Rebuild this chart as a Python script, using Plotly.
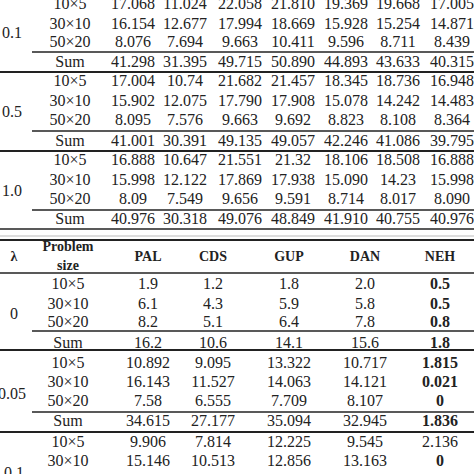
import plotly.graph_objects as go

sizes = ["10×5", "30×10", "50×20", "Sum"]
top_lambdas = ["0.1", "0.5", "1.0"]
top_values = [
    ["17.068", "11.024", "22.058", "21.810", "19.369", "19.668", "17.005"],
    ["16.154", "12.677", "17.994", "18.669", "15.928", "15.254", "14.871"],
    ["8.076", "7.694", "9.663", "10.411", "9.596", "8.711", "8.439"],
    ["41.298", "31.395", "49.715", "50.890", "44.893", "43.633", "40.315"],
    ["17.004", "10.74", "21.682", "21.457", "18.345", "18.736", "16.948"],
    ["15.902", "12.075", "17.790", "17.908", "15.078", "14.242", "14.483"],
    ["8.095", "7.576", "9.663", "9.692", "8.823", "8.108", "8.364"],
    ["41.001", "30.391", "49.135", "49.057", "42.246", "41.086", "39.795"],
    ["16.888", "10.647", "21.551", "21.32", "18.106", "18.508", "16.888"],
    ["15.998", "12.122", "17.869", "17.938", "15.090", "14.23", "15.998"],
    ["8.09", "7.549", "9.656", "9.591", "8.714", "8.017", "8.090"],
    ["40.976", "30.318", "49.076", "48.849", "41.910", "40.755", "40.976"],
]
headers = ["λ", "Problem<br>size", "PAL", "CDS", "GUP", "DAN", "NEH"]
bot_lambdas = ["0", "0.05", "0.1"]
bot_values = [
    ["1.9", "1.2", "1.8", "2.0", "0.5"],
    ["6.1", "4.3", "5.9", "5.8", "0.5"],
    ["8.2", "5.1", "6.4", "7.8", "0.8"],
    ["16.2", "10.6", "14.1", "15.6", "1.8"],
    ["10.892", "9.095", "13.322", "10.717", "1.815"],
    ["16.143", "11.527", "14.063", "14.121", "0.021"],
    ["7.58", "6.555", "7.709", "8.107", "0"],
    ["34.615", "27.177", "35.094", "32.945", "1.836"],
    ["9.906", "7.814", "12.225", "9.545", "2.136"],
    ["15.146", "10.513", "12.856", "13.163", "0"],
]
bot_bold_neh = [True, True, True, True, True, True, True, True, False, True]

F = "Liberation Serif"
fig = go.Figure()
def txt(xs, ys, ts, size=16, color="#222"):
    fig.add_trace(go.Scatter(x=xs, y=ys, text=ts, mode="text", textposition="middle center",
                             textfont=dict(family=F, size=size, color=color), hoverinfo="skip",
                             cliponaxis=False))

# top table
top_rows_y = [5, 25, 43, 63, 82, 102, 121, 142, 161, 181, 200, 220]
top_cols_x = [133, 185, 240, 293, 346, 398, 452]
xs, ys, ts = [], [], []
for i, row in enumerate(top_values):
    xs.append(70); ys.append(top_rows_y[i]); ts.append(sizes[i % 4])
    for j, v in enumerate(row):
        xs.append(top_cols_x[j]); ys.append(top_rows_y[i]); ts.append(v)
for k, l in enumerate(top_lambdas):
    xs.append(12); ys.append(34 + 79 * k); ts.append(l)
txt(xs, ys, ts)

# bottom table
bx = [14, 68, 148, 213, 289, 365, 440]
xs, ys, ts = [], [], []
for j, h in enumerate(headers):
    xs.append(bx[j]); ys.append(257); ts.append("<b>" + h + "</b>")
txt(xs, ys, ts, size=14)
bot_rows_y = [285, 305, 323, 344, 364, 383, 402, 422, 443, 462]
xs, ys, ts = [], [], []
for i, row in enumerate(bot_values):
    xs.append(bx[1]); ys.append(bot_rows_y[i]); ts.append(sizes[i % 4])
    for j, v in enumerate(row):
        t = "<b>" + v + "</b>" if (j == 4 and bot_bold_neh[i]) else v
        xs.append(bx[j + 2]); ys.append(bot_rows_y[i]); ts.append(t)
for l, y, x in zip(bot_lambdas, [315, 395, 474], [14, 12, 14]):
    xs.append(x); ys.append(y); ts.append(l)
txt(xs, ys, ts)

shapes = []
def hl(y, x0, x1, w=1.5, c="#222"):
    shapes.append(dict(type="line", xref="x", yref="y", x0=x0, x1=x1, y0=y, y1=y,
                       line=dict(color=c, width=w)))
for y in [52, 131, 210]:
    hl(y, 32, 474)
for y in [72, 151]:
    hl(y, 0, 474, 2)
hl(229, 0, 474, 1.5)
hl(236, 0, 474, 1, "#bbb")
hl(240, 0, 474, 2)
hl(273, 0, 474, 1.5)
for y in [331, 412]:
    hl(y, 32, 474)
for y in [350, 432]:
    hl(y, 0, 474, 2)

fig.update_layout(width=474, height=474, margin=dict(l=0, r=0, t=0, b=0),
                  paper_bgcolor="white", plot_bgcolor="white", showlegend=False, shapes=shapes,
                  xaxis=dict(range=[0, 474], visible=False, fixedrange=True),
                  yaxis=dict(range=[474, 0], visible=False, fixedrange=True))
fig.write_html("out.html", config={"displayModeBar": False},
               post_script="document.body.style.margin='0';document.body.style.overflow='hidden';")
